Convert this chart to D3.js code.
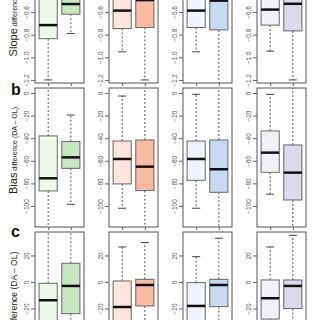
<!DOCTYPE html>
<html>
<head>
<meta charset="utf-8">
<script src="https://cdn.jsdelivr.net/npm/d3@7"></script>
<style>
  body { margin: 0; background: #fff; }
  svg { display: block; font-family: "Liberation Sans", Arial, sans-serif; }
</style>
</head>
<body>
<div id="chart"></div>
<script>
// Box stats per panel: [lower whisker, Q1, median, Q3, upper whisker]
// order: col1 light, col1 dark, col2 light, col2 dark, ...
const slopeBoxes = [
  [-1.2, -0.836, -0.716, -0.42, -0.15],
  [-0.79, -0.62, -0.53, -0.44, -0.30],
  [-0.952, -0.746, -0.588, -0.45, -0.25],
  [-1.2, -0.737, -0.495, -0.40, -0.10],
  [-0.952, -0.737, -0.588, -0.45, -0.25],
  [-1.25, -0.758, -0.50, -0.40, -0.10],
  [-0.946, -0.716, -0.579, -0.44, -0.25],
  [-1.2, -0.767, -0.528, -0.40, -0.10]
];
const biasBoxes = [
  [-130, -86.7, -75.5, -38, 10],
  [-98.5, -66.7, -57, -43, -19.5],
  [-102, -80.5, -58.4, -42.5, -2.7],
  [-130, -86.4, -65.2, -41.6, 10],
  [-102, -77.3, -58.4, -42.5, -1.2],
  [-130, -87.9, -67.5, -41.6, 10],
  [-89.6, -70.2, -52.8, -33.6, -1.2],
  [-130, -94.7, -70.5, -46, 10]
];
const rmseBoxes = [
  [-60, -35, -13.8, -1, 45],
  [-50, -23.9, -3, 14.1, 45],
  [-55, -30, -18.9, 0.75, 26.4],
  [-45, -18.1, -2.3, 2, 29.7],
  [-55, -30, -18.1, -0.5, 19.1],
  [-45, -18.6, -2.3, 2, 33],
  [-50, -28, -12.3, 1.5, 26.4],
  [-45, -20.1, -3, 1.5, 35.2]
];
const boxFills = ["#edf8e9", "#c7e9c0", "#fee5d9", "#fcbba1", "#eff3ff", "#c6dbef", "#f2f0f7", "#dadaeb"];

const slopeTicks = [-1.2, -1.0, -0.8, -0.6, -0.4, -0.2, 0];
const biasTicks = [-100, -80, -60, -40, -20, 0];
const rmseTicks = [-60, -40, -20, 0, 20];

const rows = [
  {letter: "a", name: "Slope", boxes: slopeBoxes, ticks: slopeTicks, fmt: d3.format(".1f"),
   domain: [0.0, -1.227], top: -56, nameSize: 11, restSize: 7, shift: -4, letterY: 7},
  {letter: "b", name: "Bias", boxes: biasBoxes, ticks: biasTicks, fmt: d3.format("d"),
   domain: [4.4, -118.6], top: 88, nameSize: 11, restSize: 7, shift: -7, letterY: 7},
  {letter: "c", name: "RMSE", boxes: rmseBoxes, ticks: rmseTicks, fmt: d3.format("d"),
   domain: [37.7, -67.2], top: 232, nameSize: 11, restSize: 8.5, shift: 6, letterY: 5}
];

const W = 320, H = 320;
const panelW = 49, panelH = 139;
const colX = [35, 109, 183, 257];

const svg = d3.select("#chart").append("svg")
  .attr("width", W)
  .attr("height", H);

rows.forEach((row, ri) => {
  const y = d3.scaleLinear().domain(row.domain).range([row.top, row.top + panelH]);

  // y-axis title
  const title = svg.append("text")
    .attr("transform", `translate(17,${row.top + panelH / 2 + row.shift}) rotate(-90)`)
    .attr("text-anchor", "middle")
    .attr("fill", "#222");
  title.append("tspan").attr("font-size", row.nameSize).text(row.name);
  title.append("tspan").attr("font-size", row.restSize).text(" difference (DA \u2013 OL)");

  // panel letter
  if (ri > 0) {
    svg.append("text")
      .attr("x", 11)
      .attr("y", row.top + row.letterY)
      .attr("font-size", 16)
      .attr("font-weight", "bold")
      .attr("fill", "#111")
      .text(row.letter);
  }

  colX.forEach((x0, ci) => {
    const x = d3.scaleLinear().domain([0.42, 2.58]).range([x0, x0 + panelW]);
    const g = svg.append("g");
    const clipId = `clip-${ri}-${ci}`;
    svg.append("clipPath").attr("id", clipId)
      .append("rect")
      .attr("x", x0).attr("y", row.top)
      .attr("width", panelW).attr("height", panelH);

    // y axis
    const ax = g.append("g")
      .attr("transform", `translate(${x0},0)`)
      .call(d3.axisLeft(y).tickValues(row.ticks).tickSize(4).tickFormat(row.fmt));
    ax.select(".domain").remove();
    ax.selectAll("line").attr("stroke", "#666");
    ax.selectAll("text")
      .attr("x", null).attr("dy", null)
      .attr("transform", "translate(-6,0) rotate(-90)")
      .attr("text-anchor", "middle")
      .attr("font-size", 6.5)
      .attr("fill", "#555")
      .attr("font-family", "Liberation Sans, Arial, sans-serif");

    // x ticks (no labels)
    g.append("g")
      .attr("transform", `translate(0,${row.top + panelH})`)
      .call(d3.axisBottom(x).tickValues([1, 2]).tickSize(3).tickFormat(""))
      .call(a => a.select(".domain").remove())
      .selectAll("line").attr("stroke", "#666");

    const inner = g.append("g").attr("clip-path", `url(#${clipId})`);
    const pair = row.boxes.slice(ci * 2, ci * 2 + 2);
    const bw = x(1.4) - x(1);
    const cap = 4;

    pair.forEach((s, bi) => {
      const cx = x(bi + 1);
      const [lo, q1, med, q3, hi] = s;
      // whiskers
      inner.append("line")
        .attr("x1", cx).attr("x2", cx)
        .attr("y1", y(q3)).attr("y2", y(hi))
        .attr("stroke", "#555").attr("stroke-dasharray", "2,2");
      inner.append("line")
        .attr("x1", cx).attr("x2", cx)
        .attr("y1", y(q1)).attr("y2", y(lo))
        .attr("stroke", "#555").attr("stroke-dasharray", "2,2");
      [lo, hi].forEach(v => {
        inner.append("line")
          .attr("x1", cx - cap).attr("x2", cx + cap)
          .attr("y1", y(v)).attr("y2", y(v))
          .attr("stroke", "#444");
      });
      // box
      inner.append("rect")
        .attr("x", cx - bw).attr("width", bw * 2)
        .attr("y", y(q3)).attr("height", y(q1) - y(q3))
        .attr("fill", boxFills[ci * 2 + bi])
        .attr("stroke", "#666");
      inner.append("line")
        .attr("x1", cx - bw).attr("x2", cx + bw)
        .attr("y1", y(med)).attr("y2", y(med))
        .attr("stroke", "#111").attr("stroke-width", 2.5);
    });

    // frame
    g.append("rect")
      .attr("x", x0).attr("y", row.top)
      .attr("width", panelW).attr("height", panelH)
      .attr("fill", "none")
      .attr("stroke", "#555");
  });
});
</script>
</body>
</html>
